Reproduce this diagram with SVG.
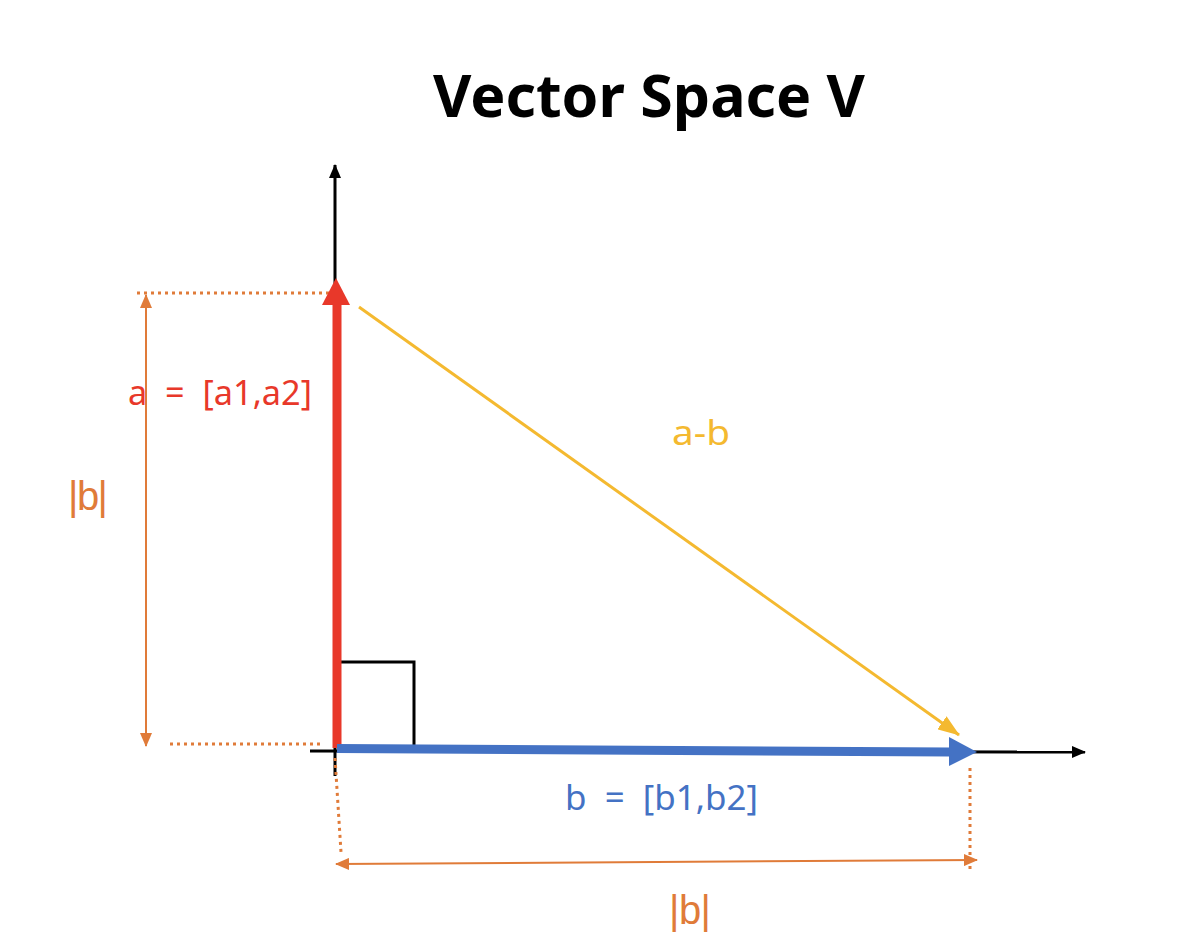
<svg xmlns="http://www.w3.org/2000/svg" width="1200" height="951" viewBox="0 0 1200 951">
<style>
text{font-family:"Noto Sans","Open Sans","DejaVu Sans",sans-serif;white-space:pre}
.title{font-weight:bold;font-size:60px;fill:#000}
.lbl{font-size:34px}
.nb{font-family:"Liberation Sans",Arial,sans-serif;font-size:40px}
.axis{stroke:#000;stroke-width:3;fill:none}
.dot{stroke:#E07B39;stroke-width:3;stroke-dasharray:3 4;fill:none}
.dim{stroke:#E07B39;stroke-width:2;fill:none}
</style>
<defs>
<marker id="ah" markerWidth="14" markerHeight="12" refX="13" refY="6" orient="auto" markerUnits="userSpaceOnUse"><path d="M0,0 L14,6 L0,12 Z" fill="#000"/></marker>
<marker id="oh" markerWidth="14" markerHeight="12" refX="13" refY="6" orient="auto" markerUnits="userSpaceOnUse"><path d="M0,0 L14,6 L0,12 Z" fill="#E07B39"/></marker>
<marker id="yh" markerWidth="22" markerHeight="16" refX="21" refY="8" orient="auto" markerUnits="userSpaceOnUse"><path d="M0,0 L22,8 L0,16 Z" fill="#F4B930"/></marker>
</defs>
<g id="title"><text class="title" x="433" y="117" textLength="432" lengthAdjust="spacingAndGlyphs">Vector Space V</text></g>
<g id="connectors">
<line class="axis" x1="310" y1="751" x2="1085" y2="752" marker-end="url(#ah)"/>
<line class="axis" x1="335" y1="776" x2="335" y2="165" marker-end="url(#ah)"/>
<polyline points="336,662 414,662 414,746" fill="none" stroke="#000" stroke-width="3"/>
<line class="dot" x1="137" y1="293" x2="334" y2="293"/>
<line class="dot" x1="170" y1="744" x2="322" y2="744"/>
<line class="dot" x1="335" y1="758" x2="341" y2="852"/>
<line class="dot" x1="970" y1="768" x2="970" y2="870"/>
<line class="dim" x1="146" y1="520" x2="146" y2="295" marker-end="url(#oh)"/>
<line class="dim" x1="146" y1="520" x2="146" y2="746" marker-end="url(#oh)"/>
<line class="dim" x1="656" y1="862" x2="336" y2="864" marker-end="url(#oh)"/>
<line class="dim" x1="656" y1="862" x2="977" y2="860" marker-end="url(#oh)"/>
<line x1="359" y1="307" x2="959" y2="735" stroke="#F4B930" stroke-width="3" marker-end="url(#yh)"/>
<line x1="337" y1="748" x2="337" y2="300" stroke="#E8382A" stroke-width="9"/>
<path d="M322,305 L336,278 L350,305 Z" fill="#E8382A"/>
<line x1="337" y1="748.5" x2="950" y2="752" stroke="#4472C4" stroke-width="9"/>
<path d="M949,737 L977,752 L949,766 Z" fill="#4472C4"/>
</g>
<g id="label-a"><text class="lbl" x="128" y="405" fill="#E8382A" textLength="184" lengthAdjust="spacingAndGlyphs">a  =  [a1,a2]</text></g>
<g id="label-amb"><text class="lbl" x="672" y="445" fill="#F4B930" textLength="58" lengthAdjust="spacingAndGlyphs">a-b</text></g>
<g id="label-b"><text class="lbl" x="565" y="810" fill="#4472C4" textLength="193" lengthAdjust="spacingAndGlyphs">b  =  [b1,b2]</text></g>
<g id="label-nb-left"><text class="nb" x="68" y="510" fill="#E07B39" textLength="40" lengthAdjust="spacing">|b|</text></g>
<g id="label-nb-bottom"><text class="nb" x="669" y="924" fill="#E07B39" textLength="42" lengthAdjust="spacing">|b|</text></g>
</svg>
